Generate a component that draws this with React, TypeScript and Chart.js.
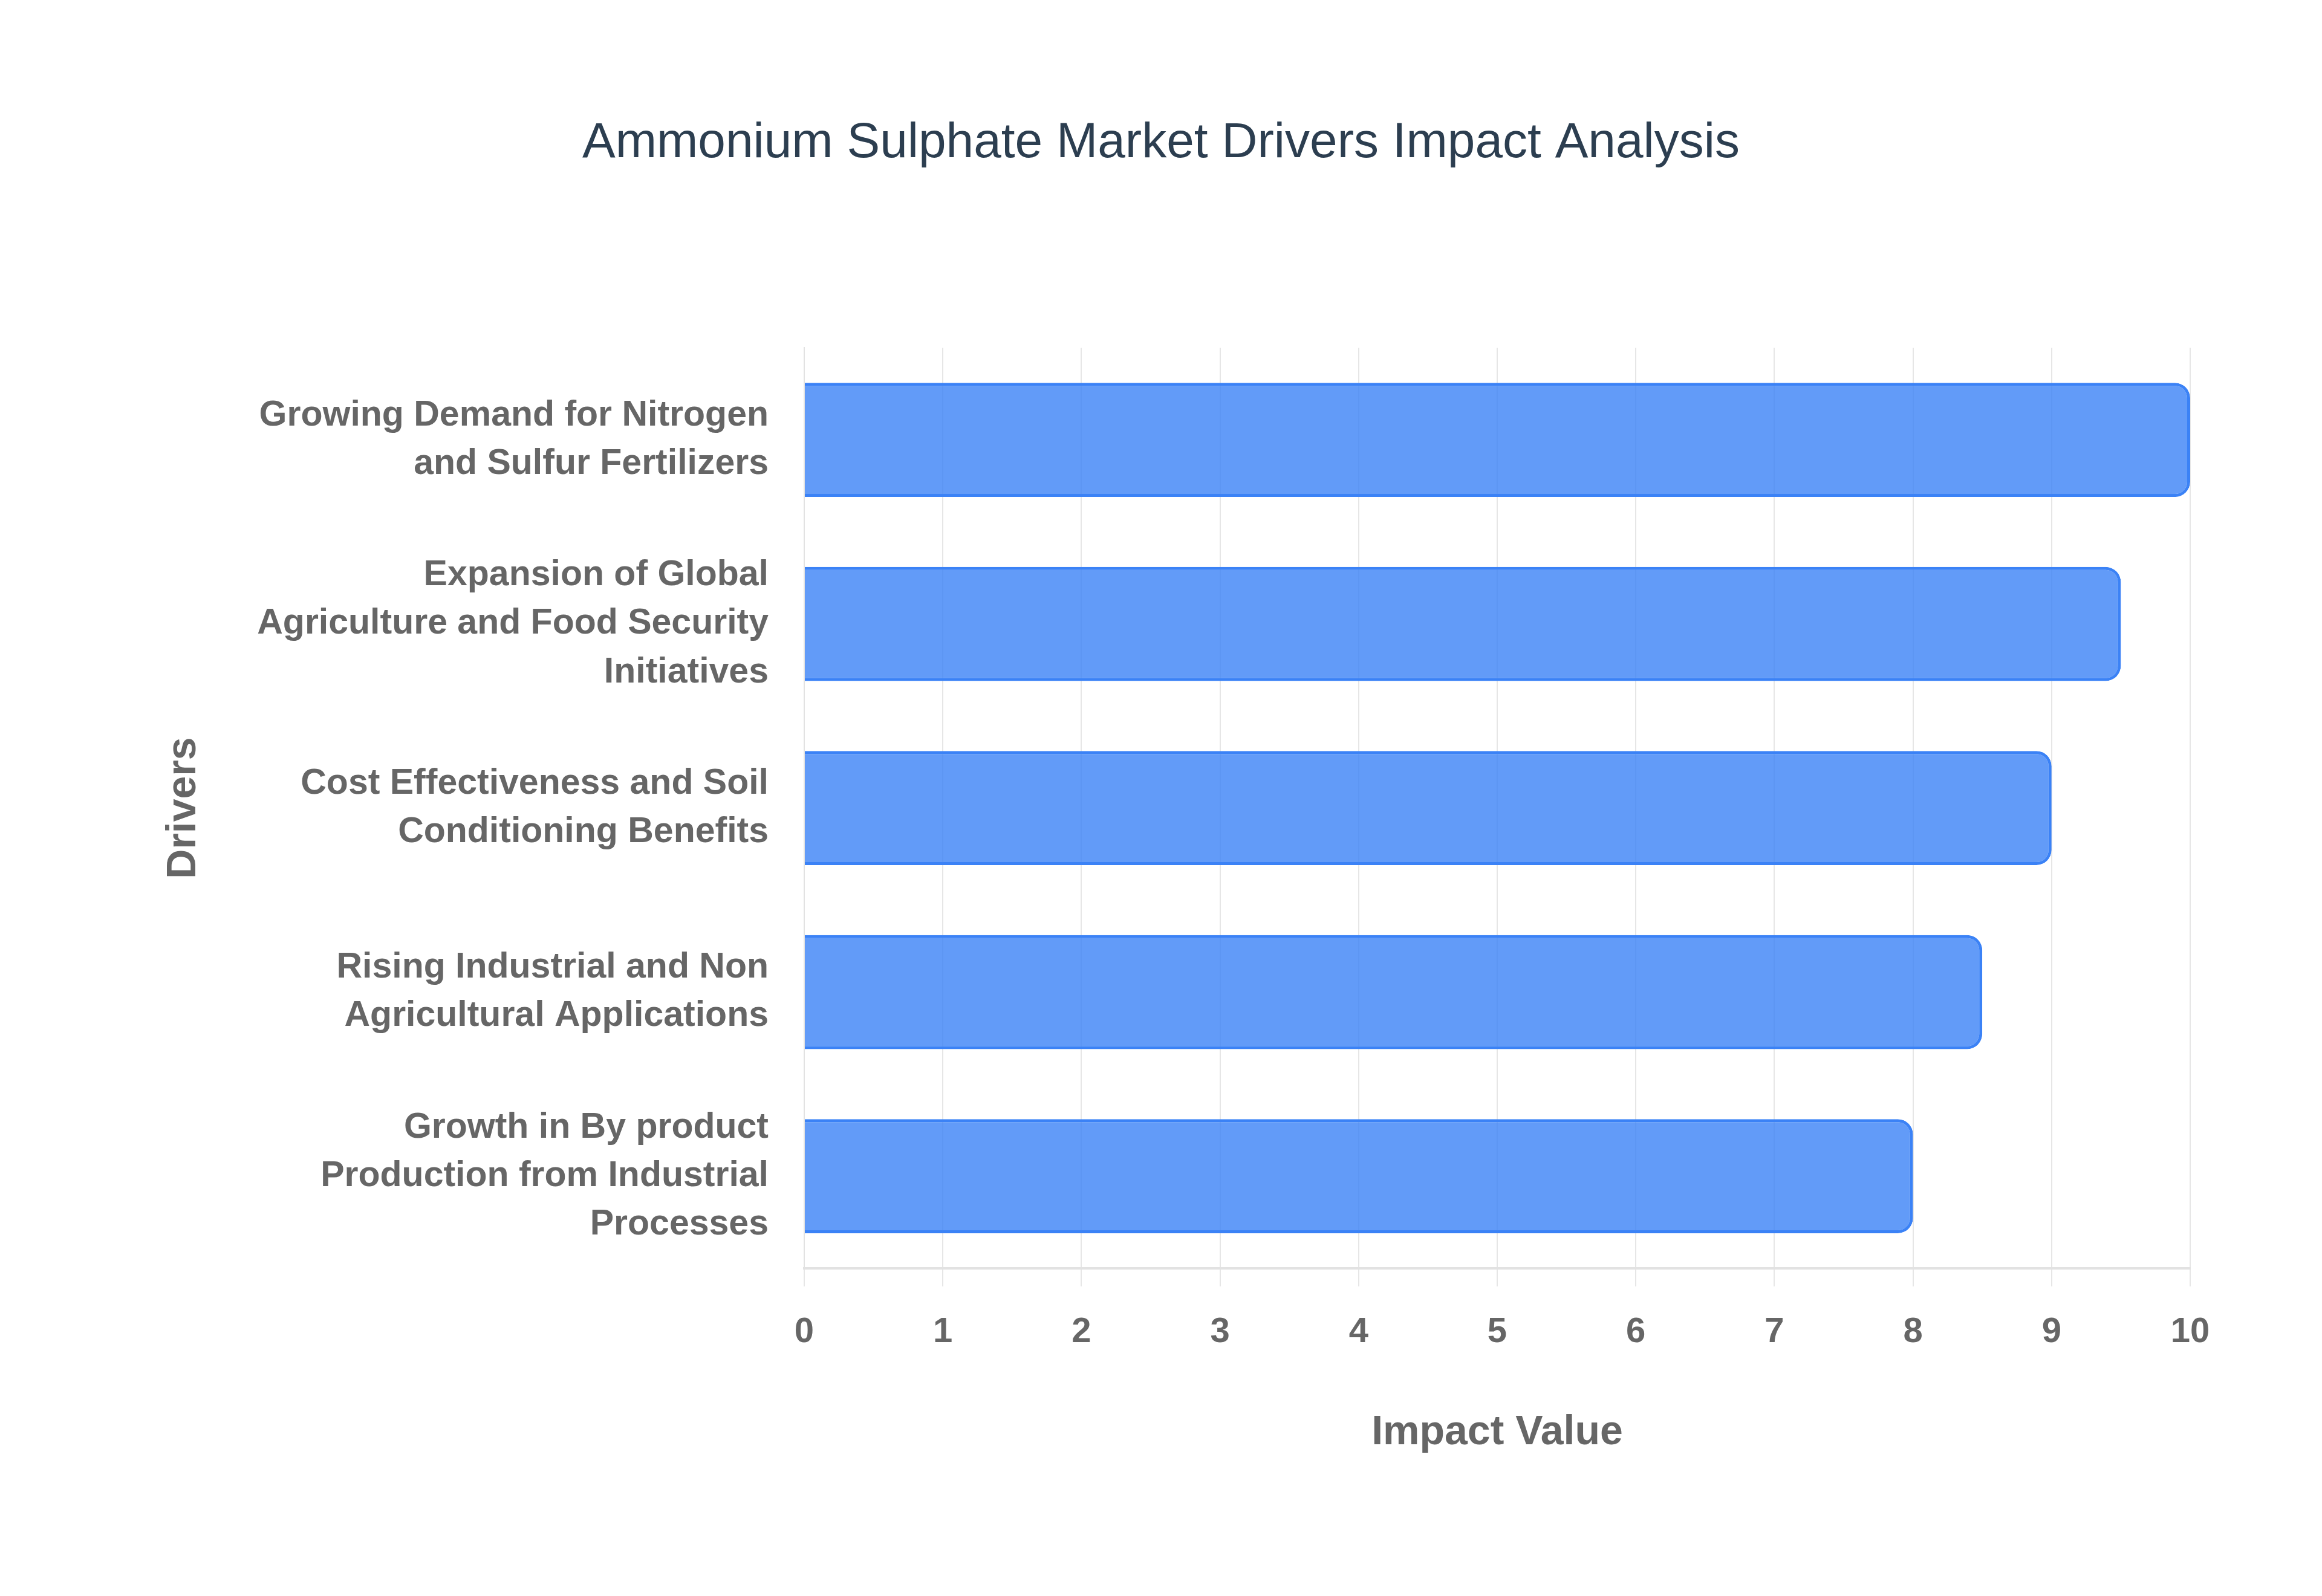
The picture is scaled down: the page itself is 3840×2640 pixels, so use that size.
import React, { useEffect, useRef } from 'react';
import { Chart, registerables } from 'chart.js';

Chart.register(...registerables);

const chartTitle = 'Ammonium Sulphate Market Drivers Impact Analysis';

const driverLabels: string[][] = [
  ['Growing Demand for Nitrogen', 'and Sulfur Fertilizers'],
  ['Expansion of Global', 'Agriculture and Food Security', 'Initiatives'],
  ['Cost Effectiveness and Soil', 'Conditioning Benefits'],
  ['Rising Industrial and Non', 'Agricultural Applications'],
  ['Growth in By product', 'Production from Industrial', 'Processes'],
];

const impactValues: number[] = [10, 9.5, 9, 8.5, 8];

const xAxisTitle = 'Impact Value';
const yAxisTitle = 'Drivers';
const xMin = 0;
const xMax = 10;
const xStep = 1;

const FONT = "'Liberation Sans', Arial, Helvetica, sans-serif";

const App: React.FC = () => {
  const canvasRef = useRef<HTMLCanvasElement | null>(null);
  const chartRef = useRef<Chart | null>(null);

  useEffect(() => {
    if (!canvasRef.current) return;
    const ctx = canvasRef.current.getContext('2d');
    if (!ctx) return;

    if (chartRef.current) {
      chartRef.current.destroy();
    }

    chartRef.current = new Chart(ctx, {
      type: 'bar',
      data: {
        labels: driverLabels,
        datasets: [{
          label: xAxisTitle,
          data: impactValues,
          backgroundColor: 'rgba(59, 130, 246, 0.8)',
          borderColor: 'rgb(59, 130, 246)',
          borderWidth: 5,
          borderRadius: 25,
          barPercentage: 0.62,
          categoryPercentage: 1,
        }]
      },
      options: {
        indexAxis: 'y',
        animation: false,
        responsive: true,
        maintainAspectRatio: false,
        layout: {
          padding: { left: 218, right: 218, top: 0, bottom: 229 }
        },
        scales: {
          x: {
            min: xMin,
            max: xMax,
            ticks: {
              stepSize: xStep,
              color: '#666666',
              padding: 41,
              font: { family: FONT, size: 58, weight: 'bold' }
            },
            grid: {
              color: '#e6e6e6',
              lineWidth: 2,
              tickLength: 30,
            },
            border: { color: '#e2e2e2', width: 4 },
            title: {
              display: true,
              text: xAxisTitle,
              color: '#666666',
              padding: { top: 50, bottom: 0 },
              font: { family: FONT, size: 68, weight: 'bold' }
            }
          },
          y: {
            afterFit: (scale: any) => { scale.width = 1112; },
            ticks: {
              color: '#666666',
              padding: 59,
              font: { family: FONT, size: 59, weight: 'bold', lineHeight: 1.36 }
            },
            grid: { display: false, drawTicks: false },
            border: { display: true, color: '#e2e2e2', width: 2 },
            title: {
              display: true,
              text: yAxisTitle,
              color: '#666666',
              padding: { top: 45, bottom: 94 },
              font: { family: FONT, size: 68, weight: 'bold' }
            }
          }
        },
        plugins: {
          legend: { display: false },
          tooltip: { enabled: false },
          title: {
            display: true,
            text: chartTitle,
            color: '#2c3e50',
            padding: { top: 188, bottom: 289 },
            font: { family: FONT, size: 82, weight: 'normal' }
          }
        }
      }
    });

    return () => {
      if (chartRef.current) {
        chartRef.current.destroy();
        chartRef.current = null;
      }
    };
  }, []);

  return (
    <div style={{ position: 'fixed', left: 0, top: 0, width: '100vw', height: '100vh', background: '#ffffff' }}>
      <canvas ref={canvasRef}></canvas>
    </div>
  );
};

export default App;
